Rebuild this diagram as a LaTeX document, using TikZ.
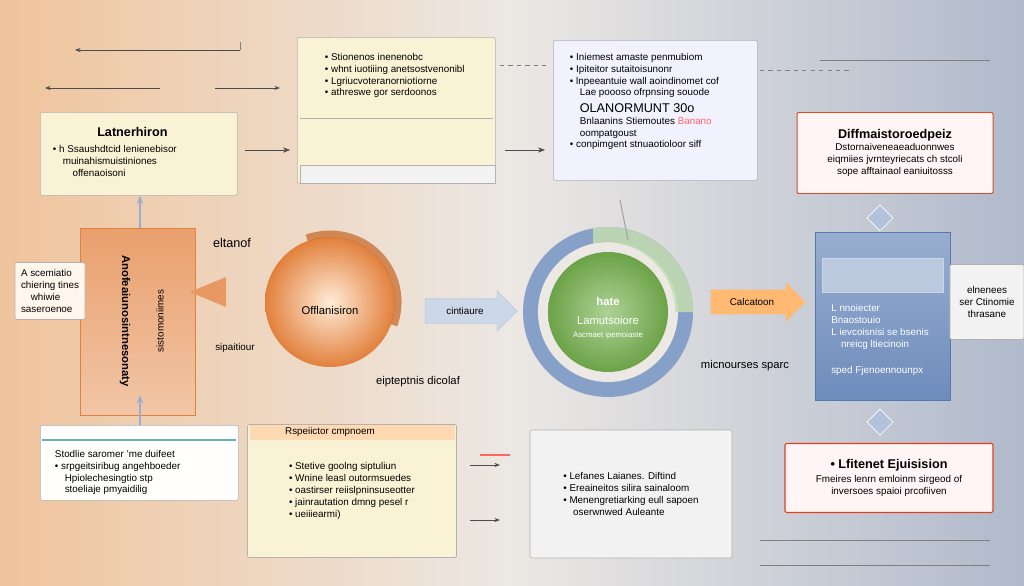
\documentclass[tikz,border=0pt]{standalone}
\usepackage{fontspec}
\setmainfont{Liberation Sans}
\usetikzlibrary{shapes.geometric,shapes.arrows,positioning,arrows.meta}
\definecolor{peach}{RGB}{240,196,156}
\definecolor{mist}{RGB}{236,232,228}
\definecolor{steel}{RGB}{176,186,204}
\definecolor{cream}{RGB}{250,242,212}
\definecolor{ora}{RGB}{226,128,60}
\definecolor{blu}{RGB}{84,120,176}
\definecolor{grn}{RGB}{120,180,80}
\tikzset{
  bw/.style={minimum width=#1*0.025cm},
  bh/.style={minimum height=#1*0.025cm},
  card/.style={draw=gray!60, fill=cream, rounded corners=1pt, align=left, font=\fontsize{7}{8.5}\selectfont, inner sep=4pt},
  whitecard/.style={card, fill=white!95!blue},
  redcard/.style={card, draw=red!50!brown, fill=white!96!red, line width=0.8pt},
  tip/.style={-{Stealth[length=4pt]}, gray!60!black, line width=0.6pt},
  note/.style={font=\fontsize{7}{8.5}\selectfont, align=center}
}
\begin{document}
\begin{tikzpicture}[x=0.025cm, y=-0.025cm]
\useasboundingbox (0,0) rectangle (1024,585);
\shade[left color=peach, right color=steel, middle color=mist] (0,0) rectangle (1024,585);

% top left guide lines
\coordinate (l1a) at (240,50); \coordinate (l1b) at (75,50);
\coordinate (l2a) at (160,88); \coordinate (l2b) at (45,88);
\coordinate (l3a) at (280,88); \coordinate (l3b) at (215,88);
\draw[tip] (l1a) -- (l1b);
\draw[gray, thin] (240,42) -- (l1a);
\draw[tip] (l2a) -- (l2b);
\draw[tip] (l3b) -- (l3a);
\draw[gray, dashed, thin] (500,65) -- (550,65);
\draw[gray, dashed, thin] (760,70) -- (850,70);
\draw[gray, thin] (820,60) -- (990,60);

% boxes
\node[card, bw=197, bh=83, anchor=north west] (lat) at (40,112) {};
\node[note, align=left, anchor=north west] at (48,122)
  {\hspace{4.5em}{\fontsize{9}{10}\selectfont\bfseries Latnerhiron}\\[3pt]
   • h Ssaushdtcid lenienebisor\\ \quad muinahismuistiniones\\ \quad\quad offenaoisoni};
\node[card, bw=198, bh=146, anchor=north west] (topm) at (297,37) {};
\node[note, align=left, anchor=north west] at (320,48)
  {• Stionenos inenenobc\\ • whnt iuotiiing anetsostvenonibl\\ • Lgriucvoteranorniotiorne\\ • athreswe gor serdoonos};
\draw[gray!60] (300,118) -- (493,118);
\draw[gray!60, fill=white!90!gray] (300,165) rectangle (495,183);
\node[whitecard, bw=204, bh=140, anchor=north west] (topr) at (553,40) {};
\node[note, align=left, anchor=north west] at (565,48)
  {• Iniemest amaste penmubiom\\ • Ipiteitor sutaitoisunonr\\ • lnpeeantuie wall aoindinomet cof\\ \quad Lae poooso ofrpnsing souode\\[3pt]
   \quad{\fontsize{9}{10}\selectfont OLANORMUNT 30o}\\ \quad Bnlaanins Stiemoutes {\color{red!60}Banano}\\ \quad oompatgoust\\ • conpimgent stnuaotioloor siff};
\node[card, fill=white!96!red, draw=red!40!brown, line width=0.7pt, bw=196, bh=81, align=center] (diff) at (895,153)
  {{\fontsize{9}{10}\selectfont\bfseries Diffmaistoroedpeiz}\\ Dstornaiveneaeaduonnwes\\ eiqmiies jvrnteyriecats ch stcoli\\ sope afftainaol eaniuitosss};

% left orange box
\shade[top color=ora!75, bottom color=ora!45, draw=ora] (80,228) rectangle (195,415);
\node[note, rotate=-90, font=\fontsize{8}{9}\selectfont\bfseries] (obox) at (125,321) {Anofeaiunosintnesonaty};
\node[note, rotate=90] at (160,321) {sistomoniimes};
\node[card, fill=white!93!orange, bw=70, bh=57] (sml) at (50,291)
  {A scemiatio\\ chiering tines\\ \quad whiwie\\ saseroenoe};
\node[isosceles triangle, shape border rotate=180, fill=ora!80, minimum width=30*0.025cm, minimum height=20*0.025cm, inner sep=0] (tri) at (216,292) {};
\node[note] at (232,243) {\small eltanof};
\node[note] at (235,348) {sipaitiour};

% orange sphere
\shade[inner color=white!85!orange, outer color=ora] (330,302) circle (65);
\draw[ora!90!black, line width=5pt, opacity=0.8] (330,302) ++(20:68) arc (20:-110:68);
\node[note, font=\fontsize{8}{9}\selectfont] (sph) at (330,310) {Offlanisiron};
\node[single arrow, fill=blu!30, draw=blu!40, bh=92, minimum width=40*0.025cm, single arrow head extend=3pt, inner sep=2pt, note] (cin) at (465,311) {cintiaure};
\node[note, font=\fontsize{8}{9}\selectfont] (eip) at (418,382) {eipteptnis dicolaf};

% blue green circle
\fill[blu!70] (608,312) circle (85);
\fill[mist] (608,312) circle (70);
\shade[inner color=grn!60, outer color=grn!90!black] (608,312) circle (60);
\fill[grn!45!white, opacity=0.85] (608,312) ++(0:85) arc (0:-100:85) -- ++(0,15) arc (-100:0:70) -- cycle;
\node[note, text=white, font=\fontsize{8}{9.5}\selectfont] (lam) at (608,318) {\textbf{hate}\\[4pt] Lamutsoiore\\ {\fontsize{5.5}{6.5}\selectfont Ascmaet ipemoiaste}};
\node[single arrow, fill=orange!55, bh=95, minimum width=40*0.025cm, single arrow head extend=3pt, inner sep=2pt, note] (cal) at (752,302) {Calcatoon};
\node[note, font=\fontsize{8}{9}\selectfont] (mic) at (745,366) {micnourses sparc};

% right blue box
\shade[top color=blu!60, bottom color=blu!85, draw=blu] (815,232) rectangle (950,400);
\draw[white!70!blu, fill=blu!40] (822,258) rectangle (943,292);
\node[note, text=white, align=left] (rbx) at (880,340) {L nnoiecter\\ Bnaostouio\\ L ievcoisnisi se bsenis\\ \quad nreicg ltiecinoin\\[10pt] sped Fjenoennounpx};
\node[card, fill=white!90!gray, bw=74, bh=75, align=center] (rsm) at (987,302) {elnenees\\ ser Ctinomie\\ thrasane};

% bottom boxes
\node[card, fill=white!92!cream, bw=198, bh=75, anchor=north west] (bl) at (40,425) {};
\node[note, align=left, anchor=north west] at (50,445)
  {Stodlie saromer 'me duifeet\\ • srpgeitsiribug angehboeder\\ \quad Hpiolechesingtio stp\\ \quad stoeliaje pmyaidilig};
\draw[teal!60, line width=1pt] (42,440) -- (236,440);
\node[card, bw=209, bh=133] (bm) at (352,491)
  {• Stetive goolng siptuliun\\ • Wnine leasl outormsuedes\\ • oastirser reiislpninsuseotter\\ • jainrautation dmng pesel r\\ • ueiiiearmi)};
\fill[orange!30] (250,425) rectangle (455,440);
\node[note] at (330,432) {Rspeiictor cmpnoem};
\node[whitecard, fill=white!90!gray, bw=202, bh=128] (bc) at (631,494)
  {• Lefanes Laianes. Diftind\\ • Ereaineitos silira sainaloom\\ • Menengretiarking eull sapoen\\ \quad oserwnwed Auleante};
\node[redcard, bw=208, bh=69, align=center] (br) at (889,478)
  {{\fontsize{9}{10}\selectfont\bfseries • Lfitenet Ejuisision}\\[2pt] Fmeires lenrn emloinm sirgeod of\\ inversoes spaioi prcofiiven};
\draw[gray, thin] (760,540) -- (990,540);
\draw[gray, thin] (760,565) -- (990,565);

% connectors
\coordinate (a1) at (470,465); \coordinate (a2) at (470,520);
\draw[tip] (a1) -- ++(30,0);
\draw[tip] (a2) -- ++(30,0);
\draw[-{Stealth[length=6pt]}, blu!60, line width=1.2pt] (140,228) -- (lat.south -| 140,0);
\draw[-{Stealth[length=6pt]}, blu!60, line width=1.2pt] (bl.north -| 140,0) -- (140,395);
\draw[-{Stealth[length=5pt]}, gray!60!black] (245,150) -- (290,150);
\draw[-{Stealth[length=5pt]}, gray!60!black] (505,150) -- (545,150);
\node[diamond, fill=blu!45, draw=white, minimum size=26*0.025cm, inner sep=0] (d1) at (880,218) {};
\node[diamond, fill=blu!45, draw=white, minimum size=26*0.025cm, inner sep=0] (d2) at (880,422) {};
\draw[gray!70, thick] (620,200) -- (628,240);
\draw[red!60, thick] (480,455) -- (510,455);
\end{tikzpicture}
\end{document}
